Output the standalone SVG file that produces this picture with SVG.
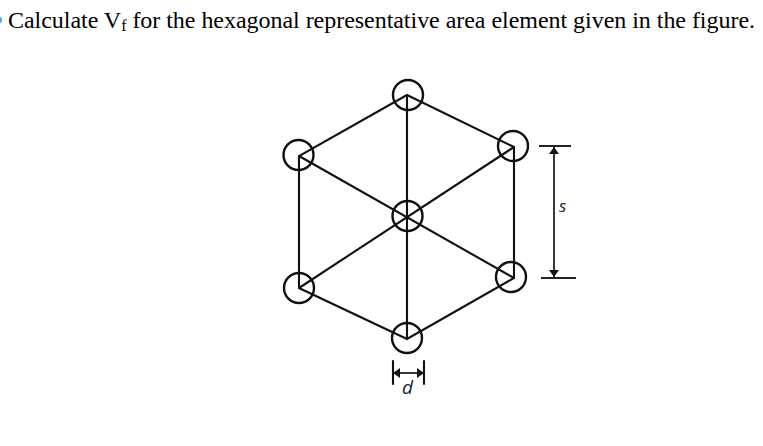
<svg xmlns="http://www.w3.org/2000/svg" width="763" height="446" viewBox="0 0 763 446">
<style>
.t{font-family:"Liberation Serif","Times New Roman",serif;font-size:24px;fill:#000}
.l{font-family:"Open Sans","Liberation Sans",sans-serif;font-style:italic;fill:#14233f}
.c{fill:none;stroke:#111;stroke-width:2.4}
.e{fill:none;stroke:#111;stroke-width:2.1;stroke-linecap:round}
.d{fill:none;stroke:#222;stroke-width:1.8}
.a{fill:#111}
</style>
<rect width="763" height="446" fill="#fff"/>
<ellipse cx="0" cy="20" rx="2" ry="3" fill="#5aa9e0"/>
<text class="t" x="8" y="28" textLength="747" lengthAdjust="spacing">Calculate V<tspan font-size="16" dy="3">f</tspan><tspan dy="-3"> for the hexagonal representative area element given in the figure.</tspan></text>
<g id="connectors">
<path class="e" d="M407 95L299 156L299 288L407 339L514 278L514 147L407 95"/>
<path class="e" d="M407 95V339M299 156L514 278M299 288L514 147"/>
</g>
<g id="node-top"><circle class="c" cx="408" cy="95" r="15"/></g>
<g id="node-upper-left"><circle class="c" cx="298.500" cy="155" r="15"/></g>
<g id="node-center"><circle class="c" cx="407.500" cy="216" r="15"/></g>
<g id="node-lower-left"><circle class="c" cx="299" cy="288" r="15"/></g>
<g id="node-bottom"><circle class="c" cx="407" cy="338" r="15"/></g>
<g id="node-upper-right"><circle class="c" cx="513" cy="146" r="15"/></g>
<g id="node-lower-right"><circle class="c" cx="511" cy="277" r="15"/></g>
<g id="dim-d">
<path class="d" stroke-width="1.5" d="M393 373H424"/>
<path class="e" stroke-width="2.4" d="M393 361V384M424 361V384"/>
<path class="a" d="M393 373L400 368V378ZM424 373L417 368V378Z"/>
<text class="l" font-size="19" x="402" y="394">d</text>
</g>
<g id="dim-s">
<path class="d" d="M539 146H571M541 278H576M554 146V278"/>
<path class="a" d="M554 147L549 154H559ZM554 277L549 270H559Z"/>
<text class="l" font-size="17" x="559" y="212">s</text>
</g>
</svg>
